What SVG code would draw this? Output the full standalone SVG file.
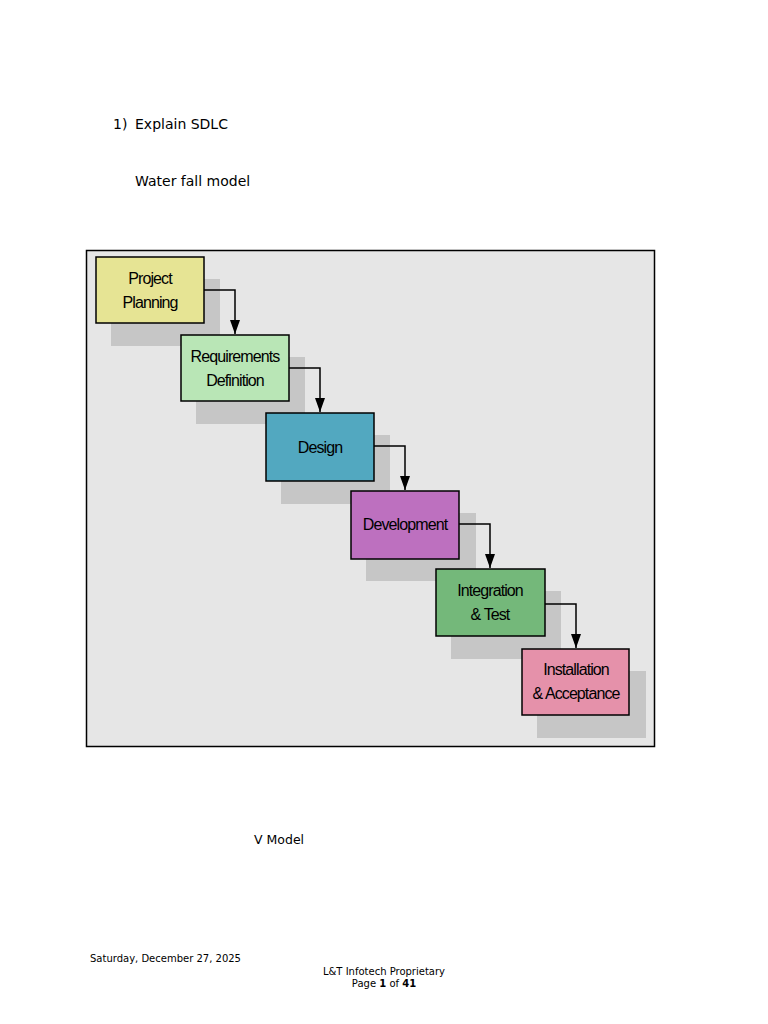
<svg xmlns="http://www.w3.org/2000/svg" width="768" height="1024" viewBox="0 0 768 1024">
<style>
.t{font-family:"DejaVu Sans",sans-serif;fill:#000}
.n{font-family:"Liberation Sans",Arial,sans-serif;font-size:16px;fill:#000;text-anchor:middle;letter-spacing:-0.9px}
.b{stroke:#000;stroke-width:1.5}
.s{fill:#c6c6c6}
.c{fill:none;stroke:#000;stroke-width:1.5}
</style>
<defs>
<marker id="d" markerWidth="10" markerHeight="14" refX="5" refY="14" markerUnits="userSpaceOnUse" viewBox="0 0 10 14"><path d="M0,0 L10,0 L5,14 Z" fill="#000"/></marker></defs>
<rect width="768" height="1024" fill="#fff"/>
<text class="t" x="113" y="129" font-size="14">1)</text>
<text class="t" x="135" y="129" font-size="14">Explain SDLC</text>
<text class="t" x="135" y="186" font-size="14">Water fall model</text>
<rect x="86.5" y="250.5" width="568" height="496" fill="#e6e6e6" stroke="#000" stroke-width="1.5"/>
<rect class="s" x="111" y="279" width="109" height="67"/>
<rect class="s" x="196" y="357" width="109" height="67"/>
<rect class="s" x="281" y="435" width="109" height="69"/>
<rect class="s" x="366" y="513" width="110" height="68"/>
<rect class="s" x="451" y="591" width="110" height="68"/>
<rect class="s" x="537" y="671" width="109" height="67"/>
<g id="connectors">
<path class="c" d="M204,290 H235 V334" marker-end="url(#d)"/>
<path class="c" d="M289,368 H320 V412" marker-end="url(#d)"/>
<path class="c" d="M374,446 H405 V490" marker-end="url(#d)"/>
<path class="c" d="M459,524 H490 V568" marker-end="url(#d)"/>
<path class="c" d="M545,604 H576 V648" marker-end="url(#d)"/>
</g>
<g id="n1"><rect class="b" x="96" y="257" width="108" height="66" fill="#e6e494"/><text class="n" x="150" y="284">Project</text><text class="n" x="150" y="308">Planning</text></g>
<g id="n2"><rect class="b" x="181" y="335" width="108" height="66" fill="#b9e6b6"/><text class="n" x="235" y="362">Requirements</text><text class="n" x="235" y="386">Definition</text></g>
<g id="n3"><rect class="b" x="266" y="413" width="108" height="68" fill="#52a8c0"/><text class="n" x="320" y="453">Design</text></g>
<g id="n4"><rect class="b" x="351" y="491" width="108" height="68" fill="#bd70bf"/><text class="n" x="405" y="530">Development</text></g>
<g id="n5"><rect class="b" x="436" y="569" width="109" height="67" fill="#74b87a"/><text class="n" x="490" y="596">Integration</text><text class="n" x="490" y="620">&amp; Test</text></g>
<g id="n6"><rect class="b" x="522" y="649" width="107" height="66" fill="#e591aa"/><text class="n" x="576" y="675">Installation</text><text class="n" x="576" y="699">&amp; Acceptance</text></g>
<text class="t" x="254" y="844" font-size="12.5">V Model</text>
<text class="t" x="90" y="962" font-size="10">Saturday, December 27, 2025</text>
<text class="t" x="384" y="975" font-size="10" text-anchor="middle">L&amp;T Infotech Proprietary</text>
<text class="t" x="384" y="987" font-size="10" text-anchor="middle">Page <tspan font-weight="bold">1</tspan> of <tspan font-weight="bold">41</tspan></text>
</svg>
